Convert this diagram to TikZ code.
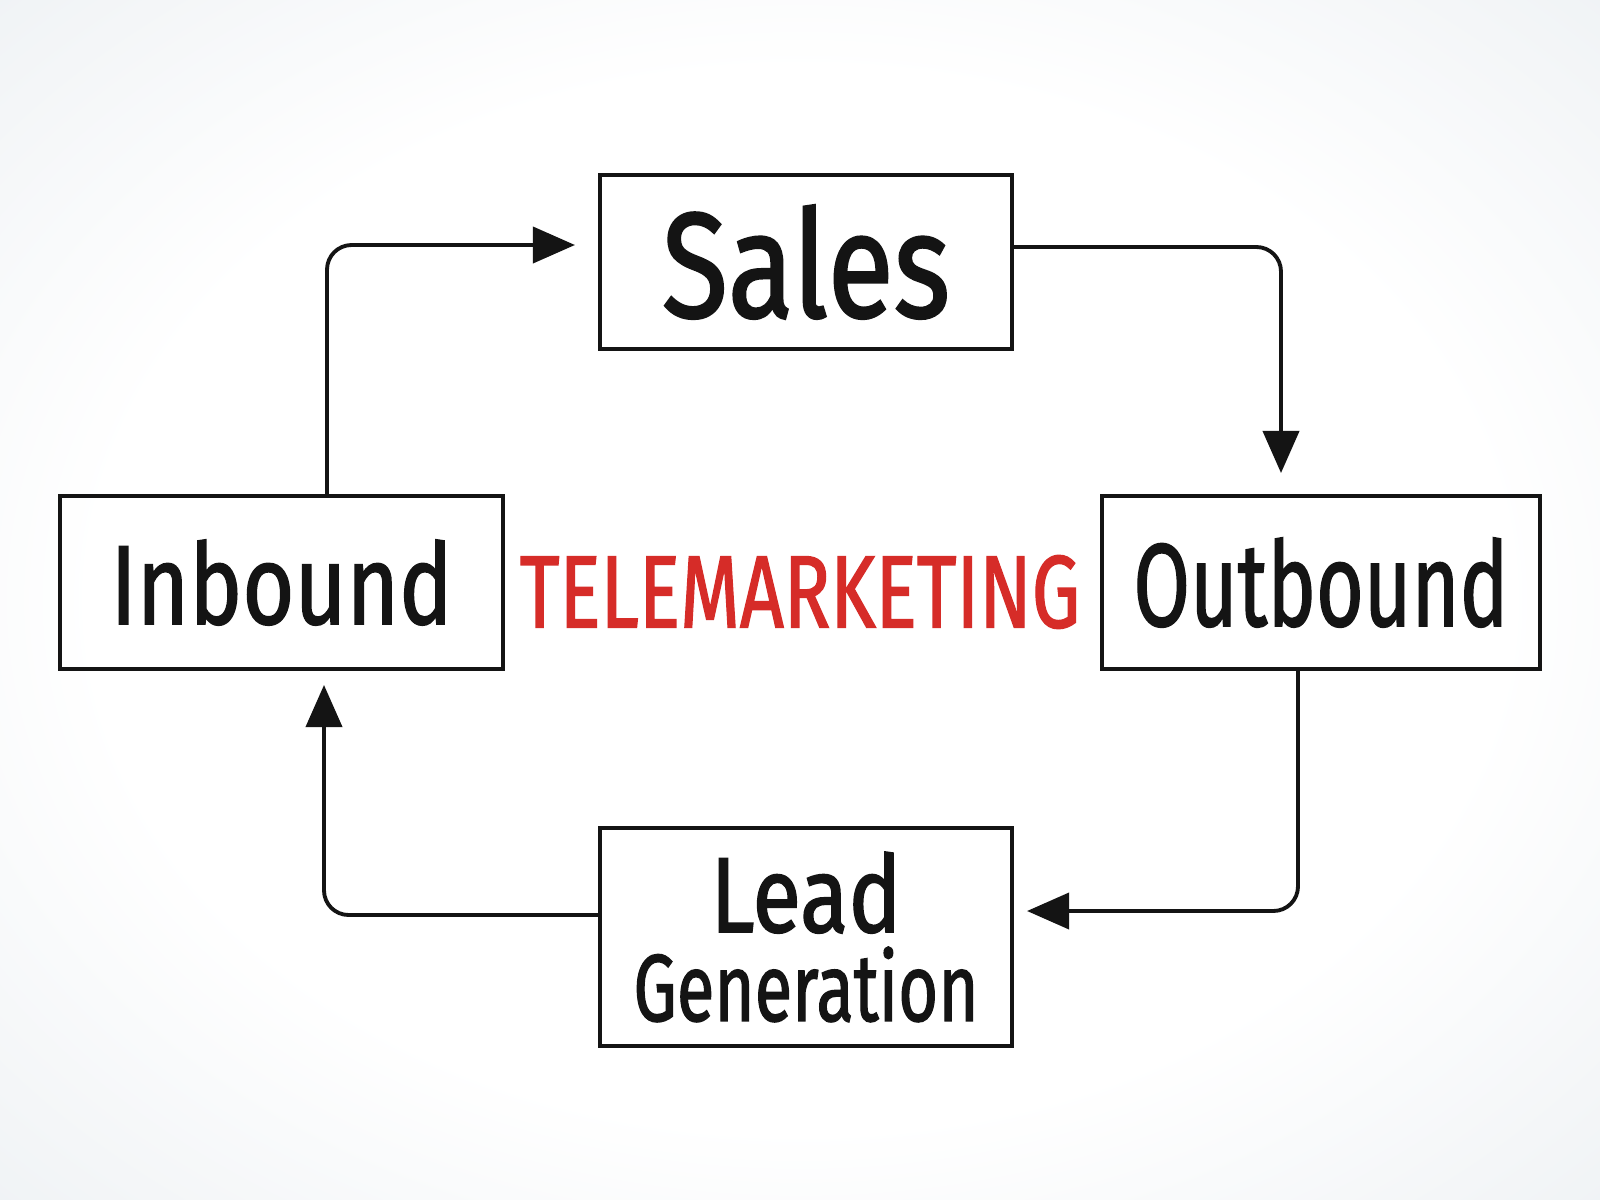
\documentclass[tikz,border=0pt]{standalone}
\usepackage{fontspec}
\setmainfont{Fira Sans}
\newfontfamily\markerfont[FakeBold=1.6]{Fira Sans}
\usetikzlibrary{arrows.meta,calc}
\definecolor{bgedge}{RGB}{224,230,235}
\definecolor{inkred}{RGB}{214,44,40}
\definecolor{ink}{RGB}{20,20,20}
\pgfdeclareradialshading{softbg}{\pgfpoint{0bp}{0bp}}{color(0bp)=(white); color(22bp)=(white); color(50bp)=(bgedge); color(70bp)=(bgedge)}
\begin{document}
\begin{tikzpicture}[x=0.01cm,y=-0.01cm,
  box/.style={draw=ink,line width=1.1pt,rectangle,inner sep=0pt,text=ink,font=\markerfont},
  conn/.style={draw=ink,line width=1.1pt,rounded corners=7,
    -{Triangle[length=0.42cm,width=0.36cm,fill=ink]}},
  word/.style={inner sep=0pt,text=ink,font=\markerfont}]
\useasboundingbox (0,0) rectangle (1600,1200);
\shade[shading=softbg] (0,0) rectangle (1600,1200);
% boxes
\node[box,minimum width=4.12cm,minimum height=1.74cm] (sales) at (806,262)
  {\resizebox{2.88cm}{1.12cm}{Sales}};
\node[box,minimum width=4.43cm,minimum height=1.73cm] (inb) at (281.5,582.5)
  {\resizebox{3.42cm}{0.84cm}{Inbound}};
\node[box,minimum width=4.38cm,minimum height=1.73cm] (outb) at (1321,582.5)
  {\resizebox{3.75cm}{0.88cm}{Outbound}};
\node[box,minimum width=4.12cm,minimum height=2.18cm,align=center] (lead) at (806,937)
  {\resizebox{1.91cm}{0.80cm}{Lead}\\[0.1cm]\resizebox{3.45cm}{0.74cm}{Generation}};
% center title
\node[word,text=inkred] (title) at (800,592)
  {\resizebox{5.6cm}{0.72cm}{TELEMARKETING}};
% connectors
\draw[conn] ($(inb.north)+(45.5,0)$) |- ($(sales.west)+(-23,-17)$);
\draw[conn] ($(sales.east)+(0,-15)$) -| ($(outb.north)+(-40,-21)$);
\draw[conn] ($(outb.south)+(-23,0)$) |- ($(lead.east)+(13,-26)$);
\draw[conn] ($(lead.west)+(0,-22)$) -| ($(inb.south)+(42.5,14)$);
\end{tikzpicture}
\end{document}
